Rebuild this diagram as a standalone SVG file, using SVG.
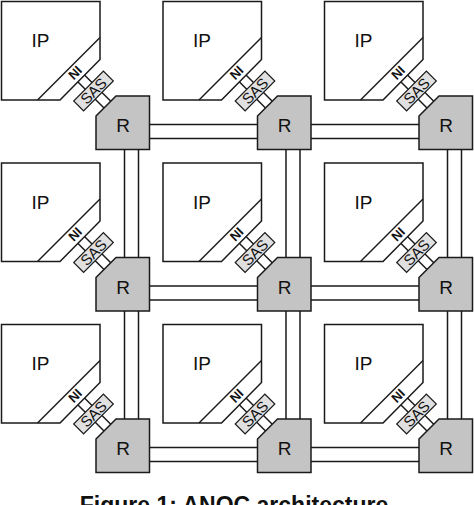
<svg xmlns="http://www.w3.org/2000/svg" width="474" height="505" viewBox="0 0 474 505">
<style>
.ip{fill:#fff;stroke:#1a1a1a;stroke-width:1.5}
.ln{stroke:#1a1a1a;stroke-width:1.5;fill:none}
.r{fill:#c4c4c4;stroke:#1a1a1a;stroke-width:1.5}
.sas{fill:#e0e0e0;stroke:#1a1a1a;stroke-width:1.2}
text{font-family:"Liberation Sans",Arial,sans-serif;fill:#111}
.big{font-size:19px;text-anchor:middle}
.ni{font-size:13px;font-weight:bold;text-anchor:middle}
.sast{font-size:15px;text-anchor:middle}
.cap{font-size:23px;font-weight:bold;text-anchor:middle}
</style>
<defs>
<g id="ipShape">
<path class="ip" d="M0,0H98.5V58L58.5,98.5H0Z"/>
<path class="ln" d="M98.5,36L36,98.5"/>
<text class="big" x="39" y="45.5">IP</text>
<text class="ni" transform="translate(73.5,71) rotate(-45)" y="4.7">NI</text>
</g>
<g id="sasShape">
<rect class="sas" x="-21" y="-7" width="42" height="14"/>
<text class="sast" y="5.3">SAS</text>
</g>
<g id="rShape">
<path class="r" d="M94.5,114.5L114.5,94.5H148V148H94.5Z"/>
<text class="big" x="121.5" y="130.5">R</text>
</g>
</defs>
<g id="connectors" class="ln">
<path d="M149.5,124.5H257.5M149.5,138.5H257.5M311,124.5H419M311,138.5H419"/>
<path d="M149.5,286H257.5M149.5,300H257.5M311,286H419M311,300H419"/>
<path d="M149.5,447.5H257.5M149.5,461.5H257.5M311,447.5H419M311,461.5H419"/>
<path d="M124.5,149.5V257.5M138.5,149.5V257.5M124.5,311V419M138.5,311V419"/>
<path d="M286,149.5V257.5M300,149.5V257.5M286,311V419M300,311V419"/>
<path d="M447.5,149.5V257.5M461.5,149.5V257.5M447.5,311V419M461.5,311V419"/>
<path d="M84.5,75l26.25,26.25M77.75,81.75l26.25,26.25"/>
<path d="M246,75l26.25,26.25M239.25,81.75l26.25,26.25"/>
<path d="M407.5,75l26.25,26.25M400.75,81.75l26.25,26.25"/>
<path d="M84.5,236.5l26.25,26.25M77.75,243.25l26.25,26.25"/>
<path d="M246,236.5l26.25,26.25M239.25,243.25l26.25,26.25"/>
<path d="M407.5,236.5l26.25,26.25M400.75,243.25l26.25,26.25"/>
<path d="M84.5,398l26.25,26.25M77.75,404.75l26.25,26.25"/>
<path d="M246,398l26.25,26.25M239.25,404.75l26.25,26.25"/>
<path d="M407.5,398l26.25,26.25M400.75,404.75l26.25,26.25"/>
</g>
<g id="ip-0-0" transform="translate(1.5,1.5)"><use href="#ipShape"/></g>
<g id="ip-1-0" transform="translate(163,1.5)"><use href="#ipShape"/></g>
<g id="ip-2-0" transform="translate(324.5,1.5)"><use href="#ipShape"/></g>
<g id="ip-0-1" transform="translate(1.5,163)"><use href="#ipShape"/></g>
<g id="ip-1-1" transform="translate(163,163)"><use href="#ipShape"/></g>
<g id="ip-2-1" transform="translate(324.5,163)"><use href="#ipShape"/></g>
<g id="ip-0-2" transform="translate(1.5,324.5)"><use href="#ipShape"/></g>
<g id="ip-1-2" transform="translate(163,324.5)"><use href="#ipShape"/></g>
<g id="ip-2-2" transform="translate(324.5,324.5)"><use href="#ipShape"/></g>
<g id="sas-0-0" transform="translate(93.5,91) rotate(-45)"><use href="#sasShape"/></g>
<g id="sas-1-0" transform="translate(255,91) rotate(-45)"><use href="#sasShape"/></g>
<g id="sas-2-0" transform="translate(416.5,91) rotate(-45)"><use href="#sasShape"/></g>
<g id="sas-0-1" transform="translate(93.5,252.5) rotate(-45)"><use href="#sasShape"/></g>
<g id="sas-1-1" transform="translate(255,252.5) rotate(-45)"><use href="#sasShape"/></g>
<g id="sas-2-1" transform="translate(416.5,252.5) rotate(-45)"><use href="#sasShape"/></g>
<g id="sas-0-2" transform="translate(93.5,414) rotate(-45)"><use href="#sasShape"/></g>
<g id="sas-1-2" transform="translate(255,414) rotate(-45)"><use href="#sasShape"/></g>
<g id="sas-2-2" transform="translate(416.5,414) rotate(-45)"><use href="#sasShape"/></g>
<g id="r-0-0" transform="translate(1.5,1.5)"><use href="#rShape"/></g>
<g id="r-1-0" transform="translate(163,1.5)"><use href="#rShape"/></g>
<g id="r-2-0" transform="translate(324.5,1.5)"><use href="#rShape"/></g>
<g id="r-0-1" transform="translate(1.5,163)"><use href="#rShape"/></g>
<g id="r-1-1" transform="translate(163,163)"><use href="#rShape"/></g>
<g id="r-2-1" transform="translate(324.5,163)"><use href="#rShape"/></g>
<g id="r-0-2" transform="translate(1.5,324.5)"><use href="#rShape"/></g>
<g id="r-1-2" transform="translate(163,324.5)"><use href="#rShape"/></g>
<g id="r-2-2" transform="translate(324.5,324.5)"><use href="#rShape"/></g>
<text id="caption" class="cap" x="234" y="513">Figure 1: ANOC architecture</text>
</svg>
